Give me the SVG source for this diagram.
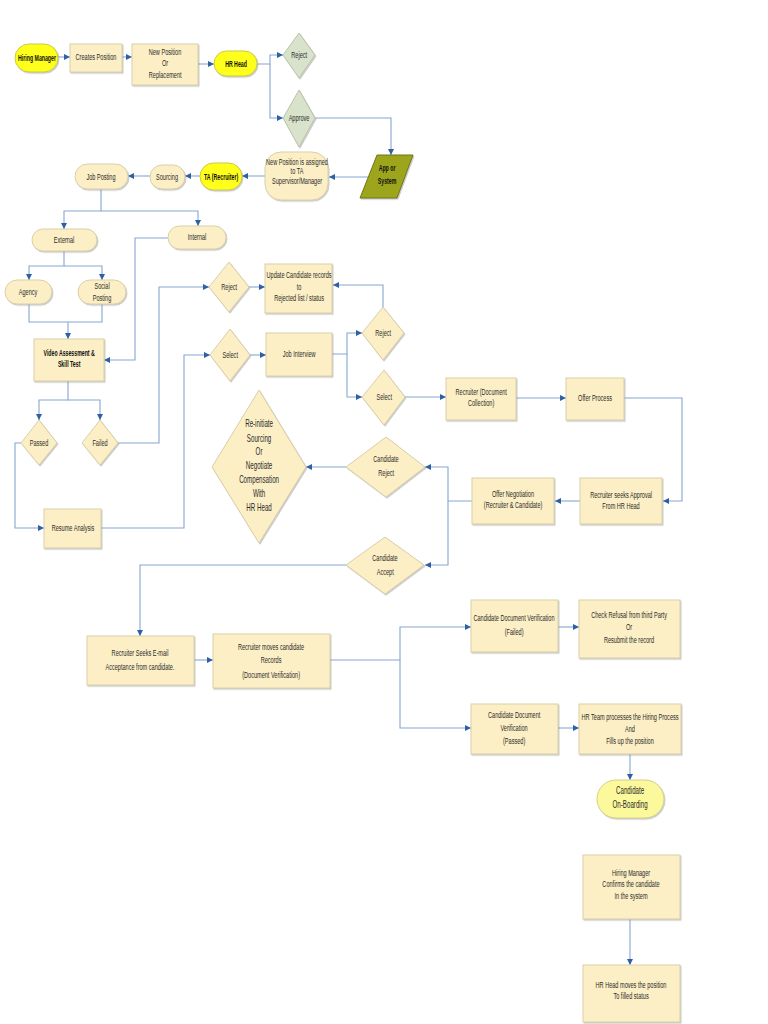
<svg xmlns="http://www.w3.org/2000/svg" width="768" height="1024" viewBox="0 0 768 1024">
<defs>
<marker id="arr" markerUnits="userSpaceOnUse" markerWidth="7" markerHeight="7" refX="6" refY="3" orient="auto"><path d="M0,0 L6,3 L0,6 z" fill="#2f5fa5"/></marker>
<filter id="sh" x="-10%" y="-10%" width="130%" height="130%"><feDropShadow dx="1" dy="1.2" stdDeviation="0.7" flood-color="#8a8a8a" flood-opacity="0.45"/></filter>
<style>
.box{fill:#fcefc5;stroke:#d8cfa8;stroke-width:1;filter:url(#sh)}
.yel{fill:#ffff1a;stroke:#c9c94a;stroke-width:1;filter:url(#sh)}
.lyel{fill:#fbf99c;stroke:#d2cf8a;stroke-width:1;filter:url(#sh)}
.gd{fill:#d9e2cb;stroke:#b9c5a6;stroke-width:1;filter:url(#sh)}
.ol{fill:#9ca51c;stroke:#6e7712;stroke-width:1;filter:url(#sh)}
.c path{fill:none;stroke:#86a5d2;stroke-width:1.1}
.a{marker-end:url(#arr)}
text{font-family:"Liberation Sans",Arial,sans-serif;font-size:9px;fill:#2b2b2b;text-anchor:middle;transform-box:fill-box;transform-origin:center;transform:scaleX(0.62)}
.b{font-weight:bold;fill:#111;transform:scaleX(0.58)}
.l{font-size:10px;transform:scaleX(0.62)}
</style>
</defs>
<rect width="768" height="1024" fill="#ffffff"/>

<g class="c" id="connectors">
<path class="a" d="M58,57 H70"/>
<path class="a" d="M122,57 H132"/>
<path class="a" d="M198,64 H214"/>
<path class="a" d="M257,64 H270 V55 H283"/>
<path class="a" d="M270,64 V118 H283"/>
<path class="a" d="M315,118 H391 V155"/>
<path class="a" d="M368,177 H329"/>
<path class="a" d="M265,176 H242"/>
<path class="a" d="M200,176 H185"/>
<path class="a" d="M150,176 H128"/>
<path class="a" d="M101,189 V211 H64 V229"/>
<path class="a" d="M101,211 H198 V226"/>
<path class="a" d="M64,251 V266 H29 V280"/>
<path class="a" d="M64,266 H102 V280"/>
<path d="M29,304 V322 H102 V304"/>
<path class="a" d="M68,322 V339"/>
<path class="a" d="M168,238 H135 V360 H104"/>
<path class="a" d="M68,381 V400 H39 V420"/>
<path class="a" d="M68,400 H100 V420"/>
<path class="a" d="M118,443 H159 V287 H209"/>
<path class="a" d="M21,443 H15 V528 H44"/>
<path class="a" d="M101,528 H184 V355 H210"/>
<path class="a" d="M249,287 H265"/>
<path class="a" d="M250,355 H266"/>
<path class="a" d="M332,354 H347 V333 H362"/>
<path class="a" d="M347,354 V397 H362"/>
<path class="a" d="M383,307 V285 H333"/>
<path class="a" d="M405,397 H446"/>
<path class="a" d="M516,398 H566"/>
<path class="a" d="M624,398 H682 V501 H663"/>
<path class="a" d="M580,501 H555"/>
<path class="a" d="M472,501 H448 V467 H425"/>
<path class="a" d="M448,501 V565 H425"/>
<path class="a" d="M346,467 H306"/>
<path class="a" d="M346,565 H140 V636"/>
<path class="a" d="M194,660 H213"/>
<path class="a" d="M330,660 H400 V627 H471"/>
<path class="a" d="M400,660 V728 H471"/>
<path class="a" d="M558,627 H579"/>
<path class="a" d="M558,728 H579"/>
<path class="a" d="M630,754 V780"/>
<path class="a" d="M630,919 V965"/>
</g>

<g id="hiring-manager"><rect class="yel" x="15" y="44" width="43" height="28" rx="14"/><text class="b" x="37" y="61">Hiring Manager</text></g>
<g id="creates-position"><rect class="box" x="70" y="44" width="52" height="28"/><text x="96" y="60">Creates Position</text></g>
<g id="new-position"><rect class="box" x="132" y="44" width="66" height="41"/><text x="165" y="55">New Position</text><text x="165" y="66">Or</text><text x="165" y="78">Replacement</text></g>
<g id="hr-head"><rect class="yel" x="214" y="51" width="43" height="25" rx="12.5"/><text class="b" x="236" y="67">HR Head</text></g>
<g id="reject-top"><polygon class="gd" points="299,33 315,55 299,78 283,55"/><text x="299" y="58">Reject</text></g>
<g id="approve"><polygon class="gd" points="299,90 315,118 299,147 283,118"/><text x="299" y="121">Approve</text></g>
<g id="app-system"><polygon class="ol" points="377,155 413,155 397,198 360,198"/><text class="b" x="387" y="171">App or</text><text class="b" x="387" y="184">System</text></g>
<g id="assigned-ta"><rect class="box" x="265" y="152" width="63" height="48" rx="16"/><text x="297" y="165">New Position is assigned</text><text x="297" y="174">to TA</text><text x="297" y="184">Supervisor/Manager</text></g>
<g id="ta-recruiter"><rect class="yel" x="200" y="163" width="42" height="27" rx="13.5"/><text class="b" x="221" y="180">TA (Recruiter)</text></g>
<g id="sourcing"><rect class="box" x="150" y="165" width="35" height="24" rx="12"/><text x="167" y="180">Sourcing</text></g>
<g id="job-posting"><rect class="box" x="75" y="164" width="53" height="25" rx="12.5"/><text x="101" y="180">Job Posting</text></g>
<g id="external"><rect class="box" x="32" y="229" width="65" height="22" rx="11"/><text x="64" y="243">External</text></g>
<g id="internal"><rect class="box" x="168" y="226" width="58" height="23" rx="11.5"/><text x="197" y="240">Internal</text></g>
<g id="agency"><rect class="box" x="5" y="280" width="47" height="24" rx="12"/><text x="28" y="295">Agency</text></g>
<g id="social-posting"><rect class="box" x="78" y="280" width="48" height="24" rx="12"/><text x="102" y="289">Social</text><text x="102" y="301">Posting</text></g>
<g id="video-assessment"><rect class="box" x="34" y="339" width="70" height="42"/><text class="b" x="69" y="356">Video Assessment &amp;</text><text class="b" x="69" y="367">Skill Test</text></g>
<g id="passed"><polygon class="box" points="39,420 57,443 39,465 21,443"/><text x="39" y="446">Passed</text></g>
<g id="failed"><polygon class="box" points="100,420 118,443 100,465 82,443"/><text x="100" y="446">Failed</text></g>
<g id="resume-analysis"><rect class="box" x="44" y="509" width="57" height="39"/><text x="73" y="531">Resume Analysis</text></g>
<g id="reject-1"><polygon class="box" points="229,262 249,287 229,312 209,287"/><text x="229" y="290">Reject</text></g>
<g id="update-records"><rect class="box" x="265" y="264" width="67" height="49"/><text x="299" y="278">Update Candidate records</text><text x="299" y="290">to</text><text x="299" y="301">Rejected list / status</text></g>
<g id="select-1"><polygon class="box" points="230,329 250,355 230,381 210,355"/><text x="230" y="358">Select</text></g>
<g id="job-interview"><rect class="box" x="266" y="333" width="66" height="43"/><text x="299" y="357">Job Interview</text></g>
<g id="reject-2"><polygon class="box" points="383,307 404,333 383,360 362,333"/><text x="383" y="336">Reject</text></g>
<g id="select-2"><polygon class="box" points="384,370 405,397 384,425 362,397"/><text x="384" y="400">Select</text></g>
<g id="doc-collection"><rect class="box" x="446" y="378" width="70" height="42"/><text x="481" y="395">Recruiter (Document</text><text x="481" y="406">Collection)</text></g>
<g id="offer-process"><rect class="box" x="566" y="378" width="58" height="42"/><text x="595" y="401">Offer Process</text></g>
<g id="seeks-approval"><rect class="box" x="580" y="478" width="82" height="46"/><text x="621" y="498">Recruiter seeks Approval</text><text x="621" y="509">From HR Head</text></g>
<g id="offer-negotiation"><rect class="box" x="472" y="478" width="82" height="46"/><text x="513" y="497">Offer Negotiation</text><text x="513" y="508">(Recruiter &amp; Candidate)</text></g>
<g id="candidate-reject"><polygon class="box" points="386,437 425,467 386,497 346,467"/><text x="386" y="462">Candidate</text><text x="386" y="476">Reject</text></g>
<g id="reinitiate"><polygon class="box" points="259,390 306,467 259,543 212,467"/><text class="l" x="259" y="427">Re-initiate</text><text class="l" x="259" y="442">Sourcing</text><text class="l" x="259" y="455">Or</text><text class="l" x="259" y="469">Negotiate</text><text class="l" x="259" y="483">Compensation</text><text class="l" x="259" y="497">With</text><text class="l" x="259" y="511">HR Head</text></g>
<g id="candidate-accept"><polygon class="box" points="385,537 424,565 385,594 346,565"/><text x="385" y="561">Candidate</text><text x="385" y="575">Accept</text></g>
<g id="email-acceptance"><rect class="box" x="87" y="636" width="107" height="49"/><text x="140" y="656">Recruiter Seeks E-mail</text><text x="140" y="670">Acceptance from candidate.</text></g>
<g id="moves-records"><rect class="box" x="213" y="634" width="117" height="54"/><text x="271" y="650">Recruiter moves candidate</text><text x="271" y="663">Records</text><text x="271" y="678">(Document Verification)</text></g>
<g id="cdv-failed"><rect class="box" x="471" y="600" width="87" height="52"/><text x="514" y="621">Candidate Document Verification</text><text x="514" y="635">(Failed)</text></g>
<g id="check-refusal"><rect class="box" x="579" y="600" width="101" height="58"/><text x="629" y="618">Check Refusal from third Party</text><text x="629" y="630">Or</text><text x="629" y="643">Resubmit the record</text></g>
<g id="cdv-passed"><rect class="box" x="471" y="704" width="87" height="50"/><text x="514" y="718">Candidate Document</text><text x="514" y="731">Verification</text><text x="514" y="744">(Passed)</text></g>
<g id="hr-team"><rect class="box" x="579" y="704" width="102" height="50"/><text x="630" y="720">HR Team processes the Hiring Process</text><text x="630" y="732">And</text><text x="630" y="744">Fills up the position</text></g>
<g id="onboarding"><rect class="lyel" x="597" y="780" width="67" height="38" rx="19"/><text class="l" x="630" y="794">Candidate</text><text class="l" x="630" y="808">On-Boarding</text></g>
<g id="hm-confirms"><rect class="box" x="583" y="855" width="97" height="64"/><text x="631" y="876">Hiring Manager</text><text x="631" y="887">Confirms the candidate</text><text x="631" y="899">In the system</text></g>
<g id="filled-status"><rect class="box" x="583" y="965" width="97" height="57"/><text x="631" y="988">HR Head moves the position</text><text x="631" y="999">To filled status</text></g>
</svg>
